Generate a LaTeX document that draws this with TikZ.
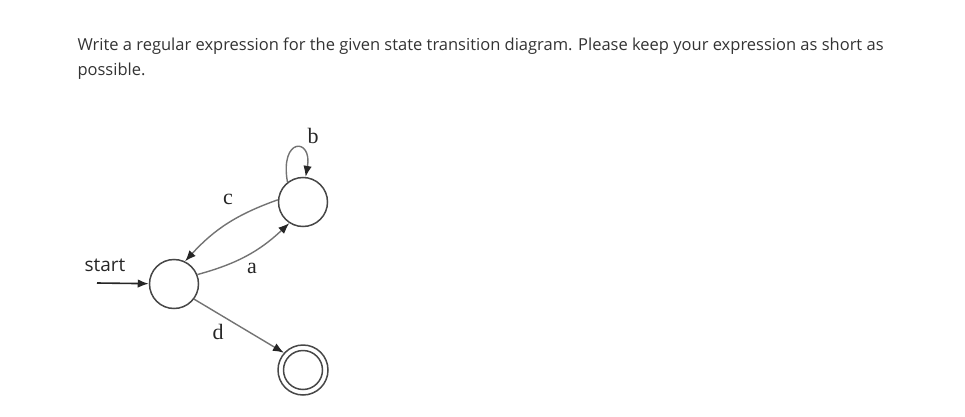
\documentclass[tikz,border=0pt]{standalone}
\usepackage{fontspec}
\setmainfont{Liberation Serif}
\newfontfamily\uifont{Open Sans}
\usetikzlibrary{arrows.meta}
\begin{document}
\begin{tikzpicture}[x=1pt,y=-1pt,
    state/.style={circle,draw=black!72,line width=1.5pt,minimum size=49pt,inner sep=0pt},
    edge/.style={draw=black!55,line width=1.4pt,-{Latex[length=11pt,width=8.5pt,color=black!85]}},
    lbl/.style={text=black!85,font=\fontsize{22}{22}\selectfont}]
    \useasboundingbox (0,0) rectangle (965,417);
    \node [anchor=base west,align=left,text=black!80,font=\uifont\fontsize{16.5}{25}\selectfont] (quest) at (74,76)
        {Write a regular expression for the given state transition diagram. Please keep your expression as short as\\possible.};
    \node [state] (s0) at (174,284) {};
    \node [state] (s1) at (303,202) {};
    \node [state,minimum size=50pt] (s2) at (303,370) {};
    \node [state,minimum size=39pt] (s2in) at (s2) {};
    \coordinate (init) at (97,283);
    \node [text=black!85,font=\uifont\fontsize{19}{19}\selectfont] (start) at (105,265) {start};
    \draw [edge,draw=black!85,line width=1.6pt] (init) -- (s0);
    \draw [edge] (s0.22) to [bend right=14] (s1.237);
    \draw [edge] (s1.175) to [bend right=14] (s0.64);
    \draw [edge] (s1.128) .. controls +(100:46pt) and +(80:40pt) .. (s1.84);
    \draw [edge] (s0.-37) -- (s2.138);
    \node [lbl] (la) at (252,268) {a};
    \node [lbl] (lb) at (313,136) {b};
    \node [lbl] (lc) at (228,199) {c};
    \node [lbl] (ld) at (218,332) {d};
\end{tikzpicture}
\end{document}
